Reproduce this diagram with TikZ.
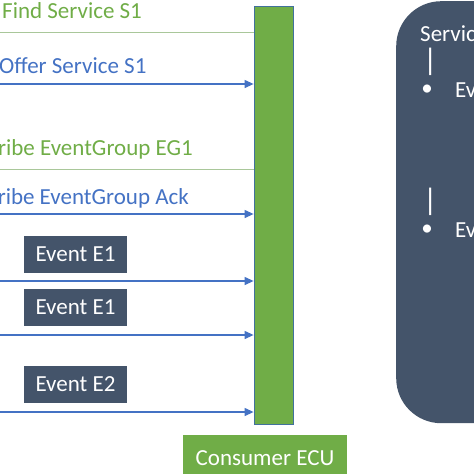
\documentclass[tikz,border=0pt]{standalone}
\usepackage{fontspec}
\setmainfont{Carlito}
\usetikzlibrary{arrows.meta}
\definecolor{msgblue}{HTML}{4472C4}
\definecolor{msggreen}{HTML}{70AD47}
\definecolor{linegreen}{HTML}{A9C79A}
\definecolor{slate}{HTML}{44546A}
\definecolor{barline}{HTML}{41719C}
\begin{document}
\begin{tikzpicture}[x=1pt,y=-1pt,font=\fontsize{23}{27}\selectfont]
\tikzstyle{msg}=[inner sep=0pt]
\tikzstyle{event}=[fill=slate,text=white,minimum width=103pt,minimum height=37pt,inner sep=0pt]
\tikzstyle{req}=[draw=linegreen,line width=1pt]
\tikzstyle{resp}=[draw=msgblue,line width=1.2pt,-{Triangle[length=9pt,width=8pt]}]
\tikzstyle{sep}=[msg,text=white,anchor=base west,font=\fontsize{31}{31}\selectfont]
\useasboundingbox (0,0) rectangle (474,474);
\clip (0,0) rectangle (474,474);
% consumer side
\node[fill=msggreen,draw=barline,line width=0.8pt,minimum width=39pt,minimum height=418pt,inner sep=0pt] (ECU) at (273.5,215) {};
\node[fill=msggreen,text=white,minimum width=164pt,minimum height=46pt,inner sep=0pt] (cons) at (265,458) {Consumer ECU};
% messages
\node[msg,text=msggreen,anchor=base west] (find) at (2,18) {Find Service S1};
\node[msg,text=msgblue,anchor=base west] (offer) at (-1,73) {Offer Service S1};
\node[msg,text=msggreen,anchor=base east] (sub) at (193,155) {Subscribe EventGroup EG1};
\node[msg,text=msgblue,anchor=base east] (suback) at (189,204) {Subscribe EventGroup Ack};
\node[event] (E1) at (75.5,254.5) {Event E1};
\node[event] (E1b) at (75.5,307.5) {Event E1};
\node[event] (E2) at (75.5,384.5) {Event E2};
\coordinate (M1) at (-10,32);
\coordinate (M3) at (-10,169);
\draw[req] (ECU.west |- M1) -- (M1);
\draw[req] (ECU.west |- M3) -- (M3);
\foreach \n/\y in {2/84,4/214,5/281,6/335,7/412}{
  \coordinate (M\n) at (-10,\y);
  \draw[resp] (M\n) -- (ECU.west |- M\n);
}
% service discovery box
\node[fill=slate,rounded corners=45pt,minimum width=160pt,minimum height=422pt,inner sep=0pt,anchor=north west] (SD) at (396,1) {};
\node[msg,text=white,anchor=base west] (svc) at (420,41) {Service S1};
\node[sep] (bar1) at (423,70) {|};
\node[msg,text=white] (dot1) at (427,90) {\textbullet};
\node[msg,text=white,anchor=base west] (ev1) at (455,97) {Event E1};
\node[sep] (bar2) at (423,210) {|};
\node[msg,text=white] (dot2) at (427,230) {\textbullet};
\node[msg,text=white,anchor=base west] (ev2) at (455,237) {Event E2};
\end{tikzpicture}
\end{document}
